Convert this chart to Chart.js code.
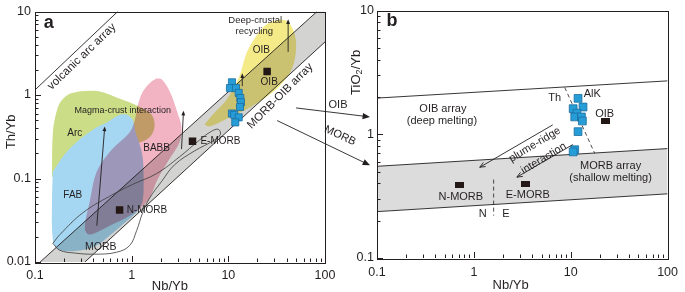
<!DOCTYPE html>
<html>
<head>
<meta charset="utf-8">
<title>Th/Yb and TiO2/Yb vs Nb/Yb</title>
<script src="https://cdn.jsdelivr.net/npm/chart.js@4.4.1/dist/chart.umd.min.js"></script>
<style>
  body { margin: 0; background: #fff; }
  #wrap { position: relative; width: 685px; height: 292px; }
  #wrap canvas { position: absolute; left: 0; top: 0; }
</style>
</head>
<body>
<div id="wrap">
  <canvas id="panelA" width="685" height="292"></canvas>
  <canvas id="panelB" width="685" height="292"></canvas>
</div>
<script>
const FONT = '"Liberation Sans", Arial, Helvetica, sans-serif';
const INK = '#231f20';

// ---------- panel a : Th/Yb vs Nb/Yb ----------
const aSampleNb = [10.9, 10.4, 12.0, 12.8, 13.3, 13.5, 13.2, 10.9, 11.5, 12.8, 11.8];
const aSampleTh = [1.42, 1.21, 1.21, 1.06, 0.92, 0.82, 0.72, 0.60, 0.58, 0.54, 0.47];

const aRefNames = ['N-MORB', 'E-MORB', 'OIB'];
const aRefNb = [0.75, 4.26, 25.2];
const aRefTh = [0.042, 0.280, 1.91];

// MORB-OIB array borders and volcanic arc array
const arrayUpper = [[0.113, 0.01], [82.7, 10]];
const arrayLower = [[0.328, 0.01], [100, 4.32]];
const volcArcLine = [[0.1, 1.15], [0.718, 10]];

// fields, [Nb/Yb, Th/Yb]
const arcField = [[0.150, 0.106], [0.153, 0.357], [0.169, 0.666], [0.190, 0.873], [0.241, 1.056],
  [0.436, 1.115], [0.717, 0.922], [1.209, 0.723], [1.608, 0.582], [1.726, 0.420], [1.533, 0.312],
  [1.153, 0.265], [0.668, 0.208], [0.328, 0.128], [0.181, 0.0873]];
const fabField = [[0.153, 0.121], [0.204, 0.197], [0.291, 0.295], [0.416, 0.398], [0.553, 0.468],
  [0.717, 0.566], [0.888, 0.582], [1.024, 0.508], [1.099, 0.357], [1.209, 0.258], [1.298, 0.182],
  [1.329, 0.106], [1.298, 0.0536], [1.153, 0.0409], [0.847, 0.0295], [0.593, 0.0208],
  [0.416, 0.0154], [0.258, 0.0135], [0.173, 0.0142], [0.153, 0.0182], [0.150, 0.0536]];
const babbField = [[1.810, 1.585], [2.04, 1.54], [2.465, 1.115], [2.980, 0.614], [3.278, 0.409],
  [3.125, 0.272], [2.465, 0.172], [1.854, 0.0973], [1.462, 0.0536], [0.954, 0.0357],
  [0.593, 0.0272], [0.369, 0.0213], [0.328, 0.0251], [0.369, 0.0536], [0.436, 0.121],
  [0.593, 0.208], [0.954, 0.357], [1.074, 0.494], [1.153, 0.743], [1.298, 1.085], [1.533, 1.384]];
const oibField = [[5.66, 0.444], [7.17, 0.614], [9.54, 0.873], [12.98, 1.67], [15.33, 3.12],
  [18.54, 4.68], [23.5, 6.66], [31.25, 7.84], [40.58, 7.63], [47.9, 5.66], [50.23, 3.57],
  [45.68, 2.08], [36.04, 1.384], [26.47, 1.0], [16.47, 0.703], [9.77, 0.522], [6.37, 0.420]];
const morbOutline = [[0.153, 0.0167], [0.181, 0.0213], [0.312, 0.0388], [0.593, 0.0614],
  [1.024, 0.085], [1.81, 0.1145], [3.125, 0.1815], [5.02, 0.288], [6.68, 0.367], [7.89, 0.388],
  [8.27, 0.338], [7.17, 0.288], [4.46, 0.2135], [2.78, 0.146], [2.04, 0.0922], [1.533, 0.0582],
  [1.298, 0.0388], [1.126, 0.0238], [0.954, 0.0158], [0.700, 0.0131], [0.416, 0.0124],
  [0.258, 0.0128], [0.181, 0.0138]];

// ---------- panel b : TiO2/Yb vs Nb/Yb ----------
const bSampleNb = [11.9, 10.6, 13.4, 11.6, 11.0, 12.9, 13.2, 11.9, 11.0, 10.6];
const bSampleTi = [1.95, 1.61, 1.66, 1.48, 1.38, 1.38, 1.28, 1.05, 0.75, 0.72];

const bRefNames = ['N-MORB', 'E-MORB', 'OIB'];
const bRefNb = [0.717, 3.44, 22.9];
const bRefTi = [0.389, 0.396, 1.28];

const oibArrayTop = [[0.1, 1.96], [100, 2.70]];
const morbArrayTop = [[0.1, 0.551], [100, 0.766]];
const morbArrayBottom = [[0.1, 0.237], [100, 0.33]];
const thAlkLine = [[8.67, 2.39], [17.7, 0.70]];
const nELine = [[1.6, 0.43], [1.6, 0.22]];

// ---------- helpers ----------
const pts = arr => arr.map(([x, y]) => ({x, y}));
const ring = arr => arr.concat([arr[0]]);

function isPow10(v) {
  const l = Math.log10(v);
  return Math.abs(l - Math.round(l)) < 1e-6;
}
function fmtPow10(v) {
  const e = Math.round(Math.log10(v));
  return e >= 0 ? String(Math.pow(10, e)) : Math.pow(10, e).toFixed(-e);
}
function isWholeMantissa(v) {
  const m = v / Math.pow(10, Math.floor(Math.log10(v) + 1e-9));
  return Math.abs(m - Math.round(m)) < 1e-6;
}

function logAxis(min, max, isX, size, pad) {
  return {
    type: 'logarithmic', min, max,
    position: isX ? 'bottom' : 'left',
    grid: { display: false, drawTicks: false },
    border: { display: false },
    ticks: {
      autoSkip: false, maxRotation: 0, padding: pad, color: INK,
      font: { family: FONT, size: 12.5 },
      callback: v => isPow10(v) ? fmtPow10(v) : ''
    },
    afterFit: s => { if (isX) s.height = size; else s.width = size; }
  };
}

function field(arr, color, order, blend) {
  return { type: 'line', data: pts(ring(arr)), fill: 'shape', backgroundColor: color,
    borderColor: 'transparent', borderWidth: 0, pointRadius: 0, tension: 0.35, order, blend };
}
function polyline(arr, order, extra) {
  return Object.assign({ type: 'line', data: pts(arr), fill: false, borderColor: INK,
    borderWidth: 0.9, pointRadius: 0, order }, extra || {});
}
function squares(xs, ys, style, order) {
  return Object.assign({ type: 'scatter', data: xs.map((x, i) => ({x, y: ys[i]})), order }, style);
}

// multiply-blended fields (set the mode for the dataset about to be drawn)
function setBlend(chart, meta) {
  const ds = meta ? chart.data.datasets[meta.index] : null;
  chart.ctx.globalCompositeOperation = ds && ds.blend ? ds.blend : 'source-over';
}
const blendPlugin = {
  id: 'blend',
  beforeDatasetsDraw(chart) {
    const metas = chart.getSortedVisibleDatasetMetas();
    chart.ctx.save();
    setBlend(chart, metas[metas.length - 1]);
  },
  afterDatasetDraw(chart, args) {
    const metas = chart.getSortedVisibleDatasetMetas();
    const i = metas.indexOf(args.meta);
    setBlend(chart, i > 0 ? metas[i - 1] : null);
  },
  afterDatasetsDraw(chart) { chart.ctx.restore(); }
};

function drawText(ctx, l, px, py) {
  ctx.save();
  ctx.translate(px, py);
  if (l.rot) ctx.rotate(l.rot * Math.PI / 180);
  ctx.font = (l.bold ? 'bold ' : '') + (l.size || 10) + 'px ' + FONT;
  ctx.fillStyle = INK;
  ctx.textAlign = l.align || 'center';
  ctx.textBaseline = 'middle';
  ctx.fillText(l.text, 0, 0);
  ctx.restore();
}

// text with subscripts, parts = [[text, isSub], ...]
function drawRich(ctx, parts, cx, cy, rot, size) {
  ctx.save();
  ctx.translate(cx, cy);
  ctx.rotate(rot * Math.PI / 180);
  ctx.fillStyle = INK;
  ctx.textBaseline = 'middle';
  ctx.textAlign = 'left';
  const fonts = parts.map(p => (p[1] ? size * 0.7 : size) + 'px ' + FONT);
  let w = 0;
  parts.forEach((p, i) => { ctx.font = fonts[i]; w += ctx.measureText(p[0]).width; });
  let x = -w / 2;
  parts.forEach((p, i) => {
    ctx.font = fonts[i];
    ctx.fillText(p[0], x, p[1] ? size * 0.3 : 0);
    x += ctx.measureText(p[0]).width;
  });
  ctx.restore();
}

function drawArrow(ctx, x0, y0, x1, y1, head, len) {
  const a = Math.atan2(y1 - y0, x1 - x0);
  const L = len || 6;
  ctx.save();
  ctx.strokeStyle = INK;
  ctx.fillStyle = INK;
  ctx.lineWidth = 0.9;
  ctx.beginPath();
  ctx.moveTo(x0, y0);
  ctx.lineTo(head === 'filled' ? x1 - Math.cos(a) * L * 0.8 : x1, head === 'filled' ? y1 - Math.sin(a) * L * 0.8 : y1);
  ctx.stroke();
  const ax = x1 - Math.cos(a - 0.4) * L, ay = y1 - Math.sin(a - 0.4) * L;
  const bx = x1 - Math.cos(a + 0.4) * L, by = y1 - Math.sin(a + 0.4) * L;
  ctx.beginPath();
  if (head === 'filled') {
    ctx.moveTo(x1, y1); ctx.lineTo(ax, ay); ctx.lineTo(bx, by); ctx.closePath(); ctx.fill();
  } else {
    ctx.moveTo(ax, ay); ctx.lineTo(x1, y1); ctx.lineTo(bx, by); ctx.stroke();
  }
  ctx.restore();
}

// labels, arrows, frame, inner ticks and axis titles
function overlay(id, labels, arrows, titles, extra) {
  return {
    id,
    afterDatasetsDraw(chart) {
      const {ctx, scales: {x, y}} = chart;
      arrows.forEach(a => drawArrow(ctx, x.getPixelForValue(a.from[0]), y.getPixelForValue(a.from[1]),
        x.getPixelForValue(a.to[0]), y.getPixelForValue(a.to[1]), a.head, a.len));
      labels.forEach(l => drawText(ctx, l, x.getPixelForValue(l.x), y.getPixelForValue(l.y)));
      if (extra) extra(chart);
    },
    afterDraw(chart) {
      const {ctx, chartArea: c, scales: {x, y}} = chart;
      ctx.save();
      ctx.strokeStyle = INK;
      ctx.lineWidth = 1;
      ctx.strokeRect(Math.round(c.left) + 0.5, Math.round(c.top) + 0.5,
        Math.round(c.right - c.left), Math.round(c.bottom - c.top));
      ctx.beginPath();
      x.ticks.forEach(t => {
        if (!isWholeMantissa(t.value)) return;
        const px = Math.round(x.getPixelForValue(t.value)) + 0.5;
        ctx.moveTo(px, c.bottom);
        ctx.lineTo(px, c.bottom - (isPow10(t.value) ? 6 : 3.5));
      });
      y.ticks.forEach(t => {
        if (!isWholeMantissa(t.value)) return;
        const py = Math.round(y.getPixelForValue(t.value)) + 0.5;
        ctx.moveTo(c.left, py);
        ctx.lineTo(c.left + (isPow10(t.value) ? 6 : 3.5), py);
      });
      ctx.stroke();
      ctx.restore();
      const w = c.right - c.left, h = c.bottom - c.top;
      drawRich(ctx, [[titles.x, false]], c.left + titles.xAt[0] * w, c.bottom + titles.xAt[1], 0, 13);
      drawRich(ctx, titles.y, c.left - titles.yAt[1], c.top + titles.yAt[0] * h, -90, 13);
    }
  };
}

// ---------- panel a ----------
const aLabels = [
  { text: 'a', x: 0.139, y: 7.22, size: 18, bold: true },
  { text: 'volcanic arc array', x: 0.305, y: 2.88, size: 11.5, rot: -44 },
  { text: 'Deep-crustal', x: 18.98, y: 7.84, size: 9.5 },
  { text: 'recycling', x: 18.54, y: 5.82, size: 9.5 },
  { text: 'OIB', x: 21.9, y: 3.48, size: 10 },
  { text: 'OIB', x: 26.47, y: 1.42, size: 10 },
  { text: 'MORB-OIB array', x: 34.4, y: 0.973, size: 11.5, rot: -45 },
  { text: 'E-MORB', x: 5.14, y: 0.280, size: 10, align: 'left' },
  { text: 'BABB', x: 1.81, y: 0.232, size: 10 },
  { text: 'Magma-crust interaction', x: 0.808, y: 0.648, size: 9 },
  { text: 'Arc', x: 0.258, y: 0.348, size: 10 },
  { text: 'FAB', x: 0.246, y: 0.0631, size: 10 },
  { text: 'N-MORB', x: 0.888, y: 0.042, size: 10, align: 'left' },
  { text: 'MORB', x: 0.479, y: 0.0150, size: 10.5 }
];
const aArrows = [
  { from: [0.436, 0.0272], to: [0.527, 0.420], head: 'filled', len: 5 },
  { from: [3.278, 0.225], to: [3.44, 0.648], head: 'filled', len: 5 },
  { from: [13.94, 1.276], to: [13.94, 1.82], head: 'filled', len: 5 },
  { from: [41.55, 3.29], to: [41.55, 8.05], head: 'filled', len: 5 }
];

const chartA = new Chart(document.getElementById('panelA'), {
  type: 'scatter',
  data: {
    datasets: [
      field(arcField, '#cbdd87', 20),
      field(fabField, '#a6d7f2', 19),
      Object.assign(field(arrayUpper.concat([[100, 10]], arrayLower.slice().reverse()), '#d3d3d1', 18, 'multiply'), { tension: 0 }),
      field(babbField, '#f2b3c3', 17, 'multiply'),
      field(oibField, '#f4eb88', 16, 'multiply'),
      polyline(arrayUpper, 10),
      polyline(arrayLower, 10),
      polyline(volcArcLine, 10),
      polyline(ring(morbOutline), 9, { borderWidth: 0.8, borderColor: '#3a3a3a', tension: 0.4 }),
      squares(aRefNb, aRefTh, { pointStyle: 'rect', pointRadius: 5.3, backgroundColor: '#231815', borderWidth: 0 }, 2),
      squares(aSampleNb, aSampleTh, { pointStyle: 'rect', pointRadius: 5, backgroundColor: '#279dd8', borderColor: '#1b6d9e', borderWidth: 0.8 }, 1)
    ]
  },
  options: {
    responsive: false, animation: false, events: [],
    layout: { padding: { left: 0, right: 360, top: 6, bottom: 0 } },
    scales: { x: logAxis(0.1, 100, true, 30, 6), y: logAxis(0.01, 10, false, 35, 4) },
    plugins: { legend: { display: false }, tooltip: { enabled: false } }
  },
  plugins: [blendPlugin, overlay('overlayA', aLabels, aArrows,
    { x: 'Nb/Yb', xAt: [0.465, 24], y: [['Th/Yb', false]], yAt: [0.48, 24] })]
});

// ---------- panel b ----------
const refMark = document.createElement('canvas');
refMark.width = 9; refMark.height = 6;
refMark.getContext('2d').fillStyle = '#231815';
refMark.getContext('2d').fillRect(0, 0, 9, 6);

const bLabels = [
  { text: 'b', x: 0.143, y: 8.17, size: 18, bold: true },
  { text: 'Th', x: 6.84, y: 1.95, size: 11 },
  { text: 'AlK', x: 13.6, y: 2.10, size: 11, align: 'left' },
  { text: 'OIB', x: 22.4, y: 1.46, size: 11 },
  { text: 'OIB array', x: 0.479, y: 1.60, size: 11 },
  { text: '(deep melting)', x: 0.468, y: 1.28, size: 11 },
  { text: 'plume-ridge', x: 4.26, y: 0.825, size: 11, rot: -31 },
  { text: 'interaction', x: 5.27, y: 0.638, size: 11, rot: -31 },
  { text: 'MORB array', x: 25.8, y: 0.551, size: 11 },
  { text: '(shallow melting)', x: 25.8, y: 0.442, size: 11 },
  { text: 'N-MORB', x: 0.734, y: 0.312, size: 11 },
  { text: 'E-MORB', x: 3.60, y: 0.324, size: 11 },
  { text: 'N', x: 1.238, y: 0.228, size: 11 },
  { text: 'E', x: 2.14, y: 0.225, size: 11 },
  { text: 'OIB', x: 0.0396, y: 1.72, size: 11 },
  { text: 'MORB', x: 0.0416, y: 0.973, size: 11, rot: 25 }
];
const bArrows = [
  { from: [6.52, 1.19], to: [1.15, 0.541], head: 'open', len: 6 },
  { from: [10.5, 0.825], to: [2.78, 0.450], head: 'open', len: 6 }
];
// arrows from panel a to panel b: start in panel a values, end in panel b values
const linkArrows = [
  { from: [50.2, 0.70], to: [0.0847, 1.38] },
  { from: [32, 0.494], to: [0.0847, 0.561] }
];
function drawLinks(chart) {
  const xa = chartA.scales.x, ya = chartA.scales.y;
  const {x, y} = chart.scales;
  linkArrows.forEach(a => drawArrow(chart.ctx, xa.getPixelForValue(a.from[0]), ya.getPixelForValue(a.from[1]),
    x.getPixelForValue(a.to[0]), y.getPixelForValue(a.to[1]), 'filled', 8));
}

new Chart(document.getElementById('panelB'), {
  type: 'scatter',
  data: {
    datasets: [
      Object.assign(field(morbArrayTop.concat(morbArrayBottom.slice().reverse()), '#dcdcdc', 10), { tension: 0 }),
      polyline(oibArrayTop, 5),
      polyline(morbArrayTop, 5),
      polyline(morbArrayBottom, 5),
      polyline(thAlkLine, 5, { borderDash: [4, 3], borderWidth: 0.8 }),
      polyline(nELine, 5, { borderDash: [4, 3], borderWidth: 0.8 }),
      squares(bRefNb, bRefTi, { pointStyle: refMark, pointRadius: 5 }, 2),
      squares(bSampleNb, bSampleTi, { pointStyle: 'rect', pointRadius: 5.5, backgroundColor: '#279dd8', borderColor: '#1b6d9e', borderWidth: 0.8 }, 1)
    ]
  },
  options: {
    responsive: false, animation: false, events: [],
    layout: { padding: { left: 342, right: 17, top: 6, bottom: 0 } },
    scales: { x: logAxis(0.1, 100, true, 34, 7), y: logAxis(0.1, 10, false, 35, 3) },
    plugins: { legend: { display: false }, tooltip: { enabled: false } }
  },
  plugins: [blendPlugin, overlay('overlayB', bLabels, bArrows,
    { x: 'Nb/Yb', xAt: [0.46, 27], y: [['TiO', false], ['2', true], ['/Yb', false]], yAt: [0.25, 21] }, drawLinks)]
});
</script>
</body>
</html>
